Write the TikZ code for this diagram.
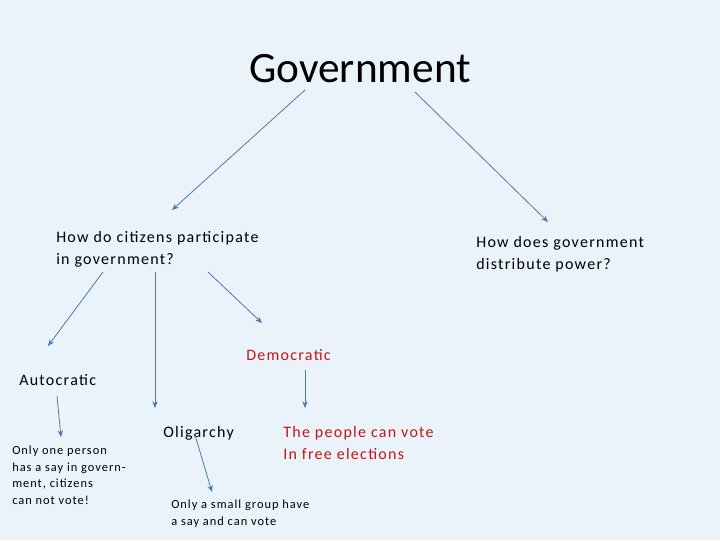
\documentclass[tikz,border=0pt]{standalone}
\usepackage{fontspec}
\setmainfont{Carlito}
\newfontfamily\spacedfont[LetterSpace=8]{Carlito}
\usetikzlibrary{arrows.meta}
\definecolor{bgblue}{RGB}{234, 242, 250}
\definecolor{linkblue}{RGB}{74, 122, 178}
\definecolor{textred}{RGB}{200, 20, 20}

\begin{document}
\begin{tikzpicture}[
        x=0.75pt, y=-0.75pt,
        label/.style={anchor=north west, align=left, inner sep=0pt, font=\spacedfont\fontsize{12}{16.5}\selectfont},
        smalllabel/.style={anchor=north west, align=left, inner sep=0pt, font=\spacedfont\fontsize{9.3}{12.3}\selectfont},
        link/.style={-{Stealth[length=5pt, width=4pt]}, semithick, color=linkblue}
    ]
    % Background
    \fill[bgblue] (0,0) rectangle (720,540);
    \useasboundingbox (0,0) rectangle (720,540);
    
    % Title
    \node[font=\fontsize{32.5}{38}\selectfont] (gov) at (360,69) {Government};
    
    % Questions
    \node[label] (participate) at (56,231) {How do citizens participate\\ in government?};
    \node[label] (distribute) at (476,236) {How does government\\distribute power?};
    
    % Forms
    \node[label, text=textred] (demo) at (246,349) {Democratic};
    \node[label] (auto) at (19,374) {Autocratic};
    \node[label] (olig) at (163,426) {Oligarchy};
    \node[label, text=textred] (vote) at (283,426) {The people can vote\\In free elections};
    
    % Explanations
    \node[smalllabel] (oneperson) at (12,446) {Only one person\\has a say in govern-\\ment, citizens\\can not vote!};
    \node[smalllabel] (smallgroup) at (171,500) {Only a small group have\\ a say and can vote};
    
    % Arrow ends
    \coordinate (g1) at (305,90);   \coordinate (p1) at (172,210);
    \coordinate (g2) at (415,92);   \coordinate (d1) at (548,222);
    \coordinate (q1) at (103,272);  \coordinate (a1) at (48,346);
    \coordinate (q2) at (155,272);  \coordinate (o1) at (155,408);
    \coordinate (q3) at (208,272);  \coordinate (m1) at (262,323);
    \coordinate (a2) at (57,396);   \coordinate (e1) at (61,437);
    \coordinate (m2) at (305,370);  \coordinate (v1) at (305,408);
    \coordinate (o2) at (195,435);  \coordinate (s1) at (212,492);
    
    \draw[link] (g1) -- (p1);
    \draw[link] (g2) -- (d1);
    \draw[link] (q1) -- (a1);
    \draw[link] (q2) -- (o1);
    \draw[link] (q3) -- (m1);
    \draw[link] (a2) -- (e1);
    \draw[link] (m2) -- (v1);
    \draw[link] (o2) -- (s1);
    
\end{tikzpicture}
\end{document}
